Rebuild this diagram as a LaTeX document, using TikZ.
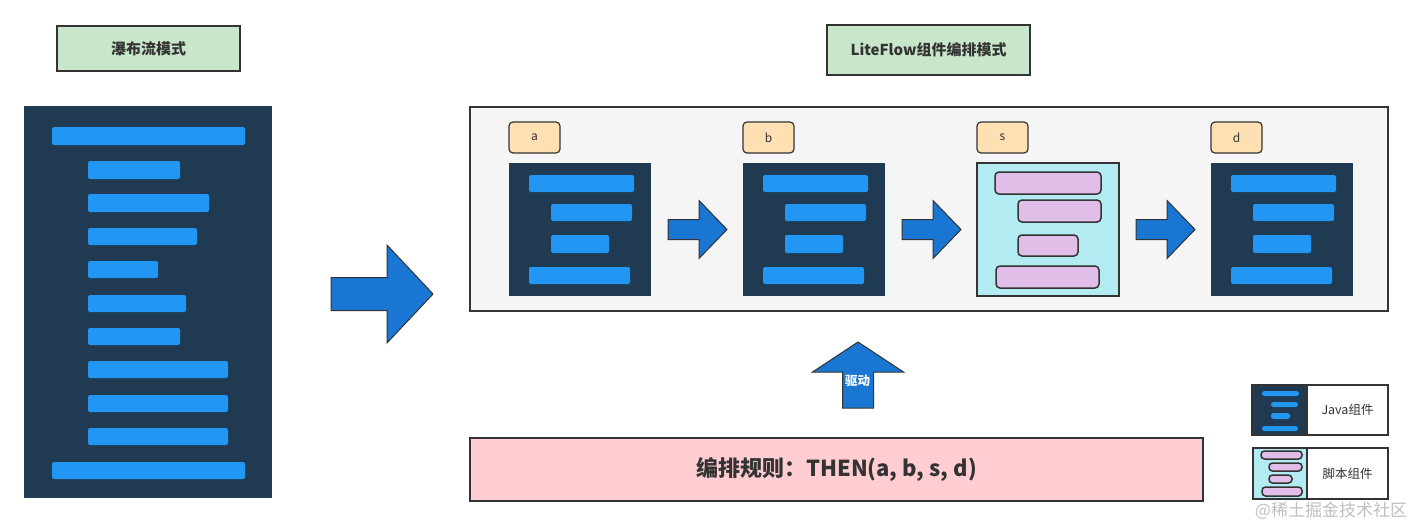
\documentclass[tikz,border=0pt]{standalone}
\usepackage{fontspec}
\setmainfont{Noto Sans CJK SC}
\usepackage{tikz}
\usetikzlibrary{calc, positioning}

\definecolor{edge}{HTML}{333333}
\definecolor{navy}{HTML}{1F3A51}
\definecolor{barblue}{HTML}{2196F3}
\definecolor{arrowblue}{HTML}{1976D2}
\definecolor{titlegreen}{HTML}{C8E6C9}
\definecolor{peach}{HTML}{FFE0B2}
\definecolor{cyanbg}{HTML}{B2EBF2}
\definecolor{lilac}{HTML}{E1BEE7}
\definecolor{rulepink}{HTML}{FFCDD2}
\definecolor{framebg}{HTML}{F5F5F5}

\begin{document}
\begin{tikzpicture}[x=1pt, y=-1pt,
    every node/.style={inner sep=0pt, outer sep=0pt, text=edge},
    titlebox/.style={draw=edge, line width=1.5pt, fill=titlegreen, font=\bfseries\fontsize{15}{18}\selectfont},
    javabox/.style={fill=navy, minimum width=142pt, minimum height=133pt},
    scriptbox/.style={fill=cyanbg, draw=edge, line width=1.5pt, minimum width=142pt, minimum height=133pt},
    tag/.style={fill=peach, draw=edge, line width=1.2pt, rounded corners=4pt, minimum width=51pt, minimum height=31pt, font=\fontsize{12}{14}\selectfont},
    bar/.style={fill=barblue, rounded corners=2pt},
    sbar/.style={fill=lilac, draw=edge, line width=1.5pt, rounded corners=4pt},
    blockarrow/.style={fill=arrowblue, draw=edge, line width=1pt, line join=miter},
    legtext/.style={draw=edge, line width=1.5pt, fill=white, font=\fontsize{12.5}{15}\selectfont}]
    \useasboundingbox (0,0) rectangle (1413,528);

    % waterfall side
    \node[titlebox, minimum width=183pt, minimum height=45pt] (wtitle) at (148.5,48.5) {瀑布流模式};
    \node[fill=navy, minimum width=248pt, minimum height=392pt] (panel) at (148,302) {};
    \foreach \xa/\ya/\xb/\yb in {52/127/245/145, 88/161/180/179, 88/194/209/212, 88/228/197/245,
        88/261/158/278, 88/295/186/312, 88/328/180/345, 88/361/228/378, 88/395/228/412,
        88/428/228/445, 52/462/245/479}
        \fill[bar] (\xa,\ya) rectangle (\xb,\yb);

    % big arrow
    \coordinate (bigarr) at (331,294);
    \draw[blockarrow] ($(bigarr)+(0,-16.5)$) -- ++(56,0) -- ++(0,-32.5) -- ++(46,49) -- ++(-46,49)
        -- ++(0,-32.5) -- ++(-56,0) -- cycle;

    % liteflow side
    \node[titlebox, minimum width=203pt, minimum height=50pt] (ltitle) at (928.5,50) {LiteFlow组件编排模式};
    \node[draw=edge, line width=2pt, fill=framebg, minimum width=918pt, minimum height=204pt] (frame) at (929,209) {};

    \node[javabox] (boxa) at (580,229.5) {};
    \node[javabox, right=92pt of boxa] (boxb) {};
    \node[scriptbox, right=92pt of boxb] (boxs) {};
    \node[javabox, right=92pt of boxs] (boxd) {};

    \foreach \c/\t in {boxa/a, boxb/b, boxs/s, boxd/d}
        \node[tag, above right=10pt and 0pt of \c.north west] (tag\t) {\t};

    \foreach \c in {boxa, boxb, boxd} {
        \begin{scope}[shift={(\c.north west)}]
            \foreach \xa/\ya/\xb/\yb in {20/12/125/29, 42/41/123/58, 42/72/100/90, 20/104/121/121}
                \fill[bar] (\xa,\ya) rectangle (\xb,\yb);
        \end{scope}
    }
    \begin{scope}[shift={(boxs.north west)}]
        \foreach \xa/\ya/\xb/\yb in {18/9/124/31, 41/37/124/59, 41/72/101/93, 19/103/122/125}
            \draw[sbar] (\xa,\ya) rectangle (\xb,\yb);
    \end{scope}

    \foreach \p/\q in {boxa/boxb, boxb/boxs, boxs/boxd}
        \draw[blockarrow] ($(\p.east)+(17,-10)$) -- ++(31,0) -- ++(0,-19) -- ++(28,29) -- ++(-28,29)
            -- ++(0,-19) -- ++(-31,0) -- cycle;

    % rule and drive arrow
    \node[draw=edge, line width=1.5pt, fill=rulepink, minimum width=733pt, minimum height=63pt,
        font=\bfseries\fontsize{22}{26}\selectfont] (rule) at (836.5,469.5) {编排规则：THEN(a, b, s, d)};
    \coordinate (drive) at (858,408);
    \draw[blockarrow] ($(drive)+(-15.5,0)$) -- ++(0,-36) -- ++(-30,0) -- ++(45.5,-30) -- ++(45.5,30)
        -- ++(-30,0) -- ++(0,36) -- cycle;
    \node[text=white, font=\bfseries\fontsize{12.5}{15}\selectfont] (drivetext) at (857.5,381) {驱动};

    % legend
    \node[legtext, minimum width=81pt, minimum height=50pt] (legjava) at (1347.5,410) {Java组件};
    \node[fill=navy, draw=edge, line width=1.5pt, minimum width=55pt, minimum height=50pt, left=0pt of legjava] (iconjava) {};
    \node[legtext, minimum width=81pt, minimum height=51pt] (legscript) at (1347.5,473.5) {脚本组件};
    \node[fill=cyanbg, draw=edge, line width=1.5pt, minimum width=54pt, minimum height=51pt, left=0pt of legscript] (iconscript) {};
    \begin{scope}[shift={(iconjava.north west)}]
        \foreach \xa/\ya/\xb/\yb in {10/6/47/11, 19/17/46/22, 19/28/38/34, 10/41/46/46}
            \fill[bar, rounded corners=2.5pt] (\xa,\ya) rectangle (\xb,\yb);
    \end{scope}
    \begin{scope}[shift={(iconscript.north west)}]
        \foreach \xa/\ya/\xb/\yb in {8/3/49/11, 16/15/49/23, 16/27/39/35, 9/39/49/48}
            \draw[sbar, rounded corners=3.5pt] (\xa,\ya) rectangle (\xb,\yb);
    \end{scope}

    \node[anchor=east, text=black!25, font=\fontsize{17}{20}\selectfont] (mark) at (1407,511) {@稀土掘金技术社区};
\end{tikzpicture}
\end{document}
